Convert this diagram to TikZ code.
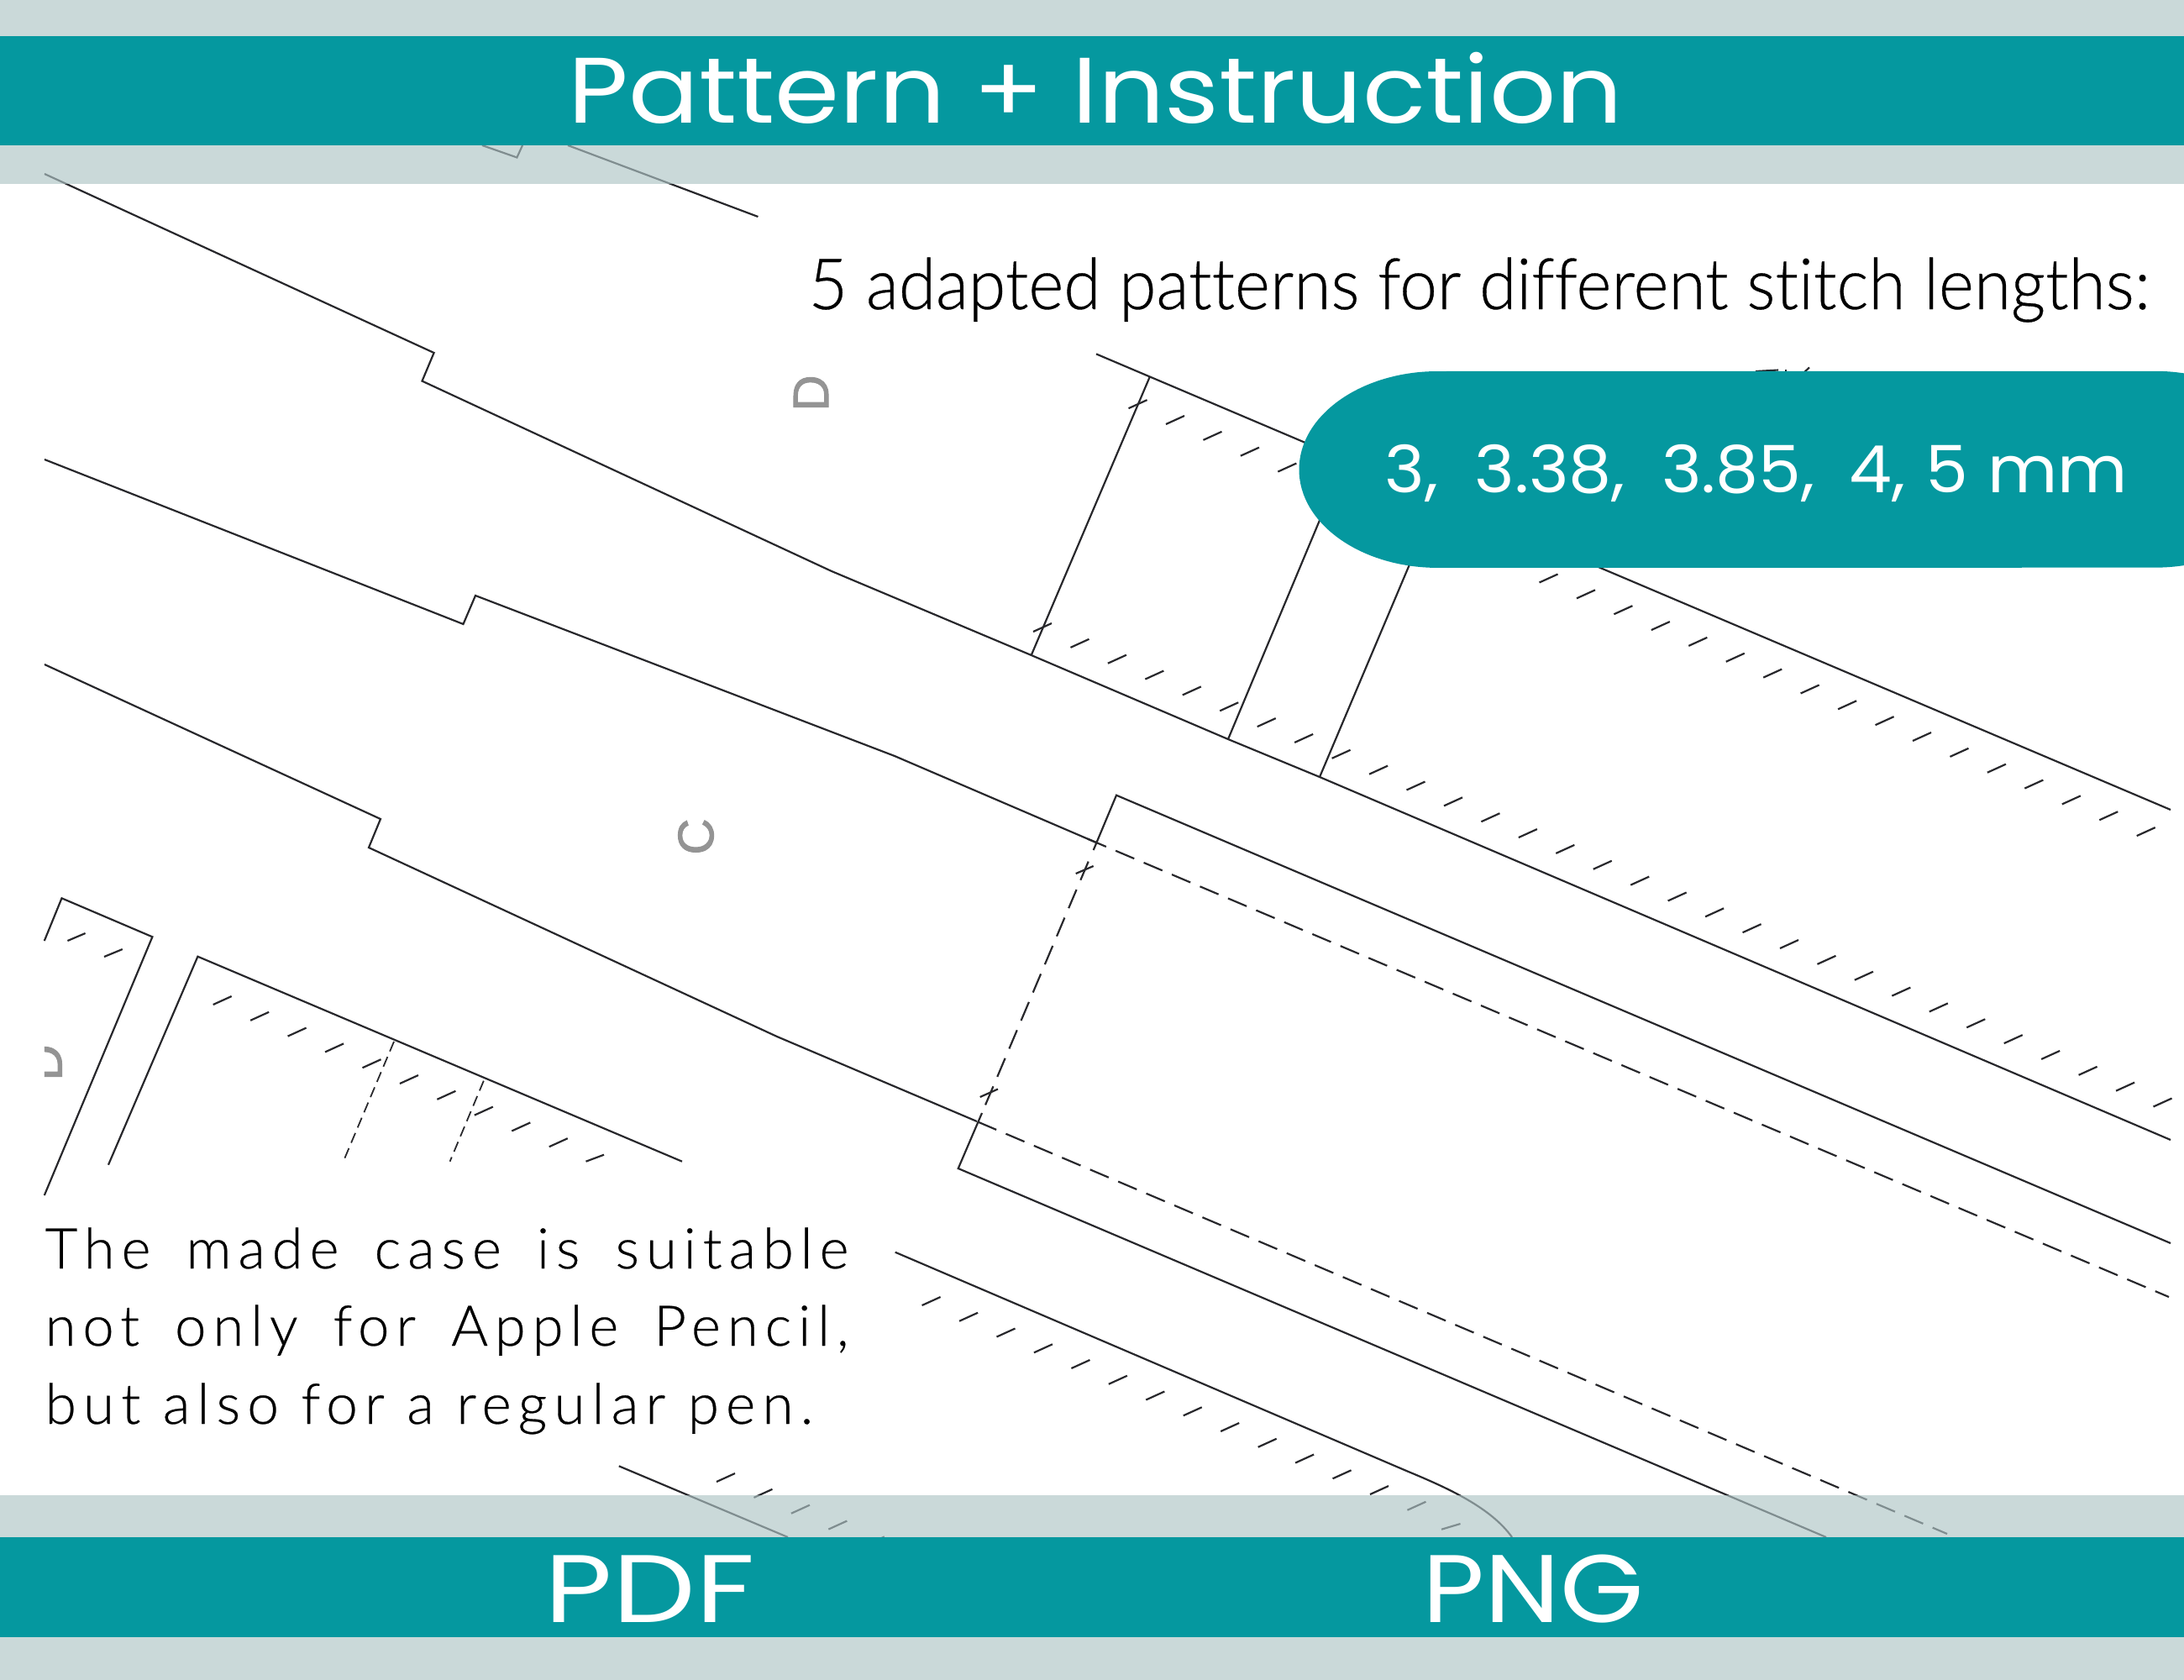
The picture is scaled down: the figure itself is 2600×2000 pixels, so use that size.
\documentclass[tikz,border=0pt]{standalone}
\usepackage{fontspec}
\usepackage{graphicx}
\setmainfont{Poppins}
\newfontfamily\didact[Ligatures=NoCommon,RawFeature={embolden=0.4}]{Lato Light}
\newfontfamily\didactsp[LetterSpace=12,Ligatures=NoCommon,RawFeature={embolden=0.4}]{Lato Light}
\newfontfamily\lettersf[RawFeature={embolden=1.5}]{Liberation Sans}
\definecolor{teal1}{HTML}{05989F}
\definecolor{bandtint}{HTML}{AFC5C6}
\definecolor{ink}{HTML}{27272B}
\definecolor{lettergray}{HTML}{949494}
\tikzset{
  pat/.style={draw=ink,line width=0.62pt,line join=miter},
  hatch/.style={draw=ink,line width=0.62pt},
  dash1/.style={draw=ink,line width=0.62pt,dash pattern=on 6.83pt off 3.5pt},
  dash2/.style={draw=ink,line width=0.5pt,dash pattern=on 3.6pt off 2pt},
  tint/.style={fill=bandtint,fill opacity=0.65,draw=none},
  tealbar/.style={fill=teal1,draw=none},
  plabel/.style={text=lettergray,font=\lettersf\fontsize{17}{17}\selectfont,inner sep=0pt,rotate=90},
  wlabel/.style={text=white,inner sep=0pt,anchor=base west},
  blabel/.style={text=black,inner sep=0pt,anchor=base west}
}
\begin{document}
\begin{tikzpicture}[x=0.01cm,y=-0.01cm]
\useasboundingbox (0,0) rectangle (2600,2000);
\clip (0,0) rectangle (2600,2000);
\fill[white] (0,0) rectangle (2600,2000);

% pattern lines
\draw[pat] (53,207) -- (516.6,420) -- (502.5,453.6) -- (990,680) -- (1227.7,780) -- (1462,880) -- (1571,925) -- (2584,1357);
\draw[pat] (53,547) -- (551.5,743) -- (566,709) -- (1065,900) -- (1305,1003);
\draw[pat] (53,791) -- (453,975) -- (439,1009) -- (925,1234) -- (1163,1335);
\draw[pat] (1305,421.4) -- (2584,964);
\draw[pat] (1368.6,449) -- (1227.7,780);
\draw[pat] (1600,550) -- (1462,880);
\draw[pat] (1700,620) -- (1571,925);
\draw[pat] (2584,1480) -- (1329,946.7) -- (1301.7,1012);
\draw[dash1] (1295.7,1025.6) -- (1169,1325);
\draw[pat] (1169,1325) -- (1140.7,1391) -- (2174,1830);
\draw[dash1] (1294.7,998.6) -- (2582,1544);
\draw[dash1] (1164,1335.5) -- (2318,1826);
\draw[hatch] (1280.7,1040) -- (1301.7,1031);
\draw[hatch] (1166.7,1306) -- (1188,1296.5);

% hatch series
\foreach \k in {-1,0,...,26}
  \draw[hatch] ({1388+44.45*\k},{505+18.85*\k}) -- ++(22,-10);
\foreach \k in {0,1,...,30}
  \draw[hatch] ({1230+44.45*\k},{752+18.85*\k}) -- ++(22,-10);
\foreach \k in {0,1,...,13}
  \draw[hatch] ({1097.6+44.45*\k},{1554+18.75*\k}) -- ++(22,-10);
\draw[hatch] (1716,1820.7) -- (1738.5,1814);
\foreach \k in {0,1,...,4}
  \draw[hatch] ({853+44.45*\k},{1764+18.85*\k}) -- ++(22,-10);

% top and bottom fragments
\draw[pat] (574,173) -- (615.4,187.5) -- (622,173);
\draw[pat] (676,173) -- (902.4,258);
\draw[pat] (736.8,1745.3) -- (938,1830);
\draw[pat] (1065.7,1490.7) -- (1676,1751.7) .. controls (1725,1772) and (1775,1795) .. (1800,1830);

% lower-left pieces
\draw[pat] (52.8,1120) -- (73.5,1069.3) -- (181.4,1115.3) -- (52.8,1423);
\draw[hatch] (80.4,1120) -- (101.6,1111);
\draw[hatch] (124,1139) -- (145.8,1130);
\draw[pat] (129,1386.7) -- (235.4,1138.7) -- (812,1382.7);
\foreach \k in {0,1,...,9}
  \draw[hatch] ({253.7+44.45*\k},{1196+18.8*\k}) -- ++(22,-10);
\draw[hatch] (697.5,1382.7) -- (719,1374.7);
\draw[dash2] (469,1240) -- (408.7,1382.7);
\draw[dash2] (575.8,1286.7) -- (535.6,1382.7);

% rotated piece letters
\node[plabel] (letterD) at (965.5,468) {D};
\node[plabel] (letterC) at (828.5,996) {C};
\begin{scope}
  \clip (52.8,1200) rectangle (200,1300);
  \node[plabel] (letterDb) at (53,1265) {D};
\end{scope}

% fragments peeking above the pill
\draw[ink,line width=0.6pt] (2090,442) -- (2117,440.5);
\draw[ink,line width=0.6pt] (2126,439.5) -- (2126,443);
\draw[ink,line width=0.6pt] (2148,443) -- (2154,437.5);

% bands
\fill[tint] (0,0) rectangle (2600,43);
\fill[tint] (0,173) rectangle (2600,219);
\fill[tint] (0,1780) rectangle (2600,1830);
\fill[tint] (0,1949) rectangle (2600,2000);
\fill[tealbar] (0,43) rectangle (2600,173);
\fill[tealbar] (0,1830) rectangle (2600,1949);

% pill
\fill[tealbar] (1711.6,442) arc[start angle=90,end angle=270,x radius=1.65cm,y radius=1.169cm]
  -- (2565,675.7) arc[start angle=-90,end angle=90,x radius=1.65cm,y radius=1.169cm] -- cycle;

% texts
\node[wlabel,font=\fontsize{31.5}{31.5}\selectfont] (title) at (676,147) {\resizebox{357pt}{\height}{Pattern + Instruction}};
\node[wlabel,font=\fontsize{32.5}{32.5}\selectfont] (pdf) at (648,1931) {\resizebox{71pt}{\height}{PDF}};
\node[wlabel,font=\fontsize{32.5}{32.5}\selectfont] (png) at (1693,1931) {\resizebox{75pt}{\height}{PNG}};
\node[wlabel,font=\fontsize{23}{23}\selectfont] (sizes) at (1648,586) {\scalebox{1}[0.96]{3,\hspace{12.3pt}3.38,\hspace{12.3pt}3.85,\hspace{11.7pt}4,\hspace{0.6pt} 5\hspace{0.4pt} mm}};
\node[blabel,font=\didact\fontsize{24}{24}\selectfont] (head) at (962,368) {\resizebox{454pt}{\height}{5 adapted patterns for different stitch lengths:}};
\node[blabel,font=\didactsp\fontsize{19}{19}\selectfont] (p1) at (53,1510) {\makebox[272pt][s]{The made case is suitable}};
\node[blabel,font=\didactsp\fontsize{19}{19}\selectfont] (p2) at (53,1602) {\makebox[272pt][s]{not only for Apple Pencil,}};
\node[blabel,font=\didactsp\fontsize{19}{19}\selectfont] (p3) at (53,1695) {\resizebox{260pt}{\height}{but also for a regular pen.}};
\end{tikzpicture}
\end{document}
